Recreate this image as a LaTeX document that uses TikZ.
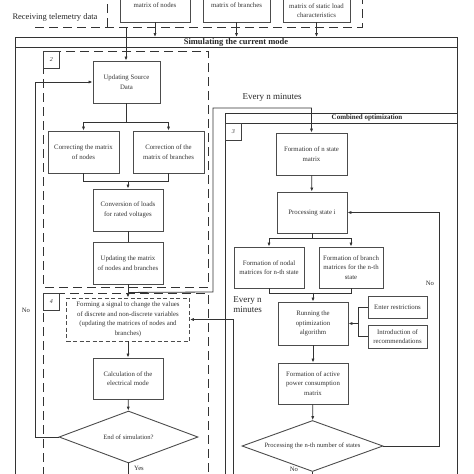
\documentclass[tikz,border=0pt]{standalone}
\usepackage{fontspec}
\setmainfont{Liberation Serif}
\usetikzlibrary{shapes.geometric,arrows.meta}

\begin{document}
\begin{tikzpicture}[x=1pt,y=-1pt,
    >={Latex[length=4pt,width=3.2pt]},
    line width=0.8pt, color=black!80,
    box/.style={draw=black!70,line width=0.9pt,rectangle,align=center,inner sep=1pt,
        text=black!80,font=\fontsize{6.8}{9.5}\selectfont},
    dbox/.style={box,dash pattern=on 4pt off 2.5pt},
    cond/.style={diamond,draw=black!70,line width=0.9pt,aspect=2.7,inner sep=1pt,
        text=black!80,font=\fontsize{6.6}{9}\selectfont},
    tag/.style={draw=black!75,line width=0.9pt,minimum width=16,minimum height=17,
        inner sep=0pt,text=black!80,font=\fontsize{6}{6}\selectfont\itshape},
    frame/.style={draw=black!80,line width=0.9pt},
    area/.style={draw=black!80,line width=1pt,dash pattern=on 9pt off 5pt},
    lbl/.style={text=black!85,inner sep=0pt}]
\useasboundingbox (0,0) rectangle (474,474);
\clip (0,0) rectangle (474,474);

% block 1 (cut at the top)
\draw[area] (35,27) -- (362,27) -- (362,-5);
\draw[area] (107,27) -- (107,-5);
\node[lbl,font=\fontsize{8.5}{9}\selectfont] (telemlbl) at (55,17) {Receiving telemetry data};
\node[box,minimum width=70,minimum height=34] (fnodes) at (155,5) {matrix of nodes};
\node[box,minimum width=67,minimum height=34] (fbranches) at (236.5,5) {matrix of branches};
\node[box,minimum width=67,minimum height=34,text depth=0pt] (fstatic) at (316.5,5) {};
\node[lbl,align=center,font=\fontsize{6.8}{9}\selectfont,text=black!80] (fstatictxt) at (316.5,11) {matrix of static load\\characteristics};
\coordinate (simtop) at (0,37);
\coordinate (telem) at (126,27);
\draw[->] (fnodes.south) -- (fnodes.south |- simtop);
\draw[->] (fbranches.south) -- (fbranches.south |- simtop);
\draw[->] (fstatic.south) -- (fstatic.south |- simtop);

% simulating the current mode
\draw[frame] (15,490) -- (15,37) -- (457,37) -- (457,490);
\draw[frame] (15,47) -- (457,47);
\node[lbl,font=\fontsize{8.5}{9}\selectfont\bfseries] (simtitle) at (236,42) {Simulating the current mode};

% block 2
\draw[area] (43,51) rectangle (208,287);
\node[tag,anchor=north west] (tagtwo) at (43,51) {2};
\node[box,minimum width=67,minimum height=42] (usd) at (126.5,82) {Updating Source\\Data};
\node[box,minimum width=71,minimum height=42] (cnodes) at (83.5,152) {Correcting the matrix\\of nodes};
\node[box,minimum width=71,minimum height=42] (cbranch) at (168.5,152) {Correction of the\\matrix of branches};
\node[box,minimum width=70,minimum height=42] (conv) at (128,210) {Conversion of loads\\for rated voltages};
\node[box,minimum width=70,minimum height=42] (umat) at (128,263) {Updating the matrix\\of nodes and branches};

\draw[->] (telem) -- (telem |- usd.north);
\draw[->] (usd.south) -- ++(0,19) -| (cnodes.north);
\draw[->] (usd.south) ++(0,19) -| (cbranch.north);
\draw (cnodes.south) -- ++(0,8) -| (cbranch.south);
\draw[->] (conv.north) ++(0,-8) -- (conv.north);
\draw (conv) -- (umat);

% block 4
\draw[area] (43,490) -- (43,293) -- (208,293) -- (208,490);
\node[tag,anchor=north west] (tagfour) at (43,293) {4};
\node[dbox,minimum width=123,minimum height=43] (signal) at (128,319.5)
    {Forming a signal to change the values\\of discrete and non-discrete variables\\(updating the matrices of nodes and\\branches)};
\node[box,minimum width=70,minimum height=41] (calc) at (128,378.5) {Calculation of the\\electrical mode};
\node[cond,minimum width=139,minimum height=52] (endsim) at (128.5,437) {End of simulation?};

\draw[->] (umat.south) -- (signal.north);
\draw[->] (signal) -- (calc);
\draw[->] (calc) -- (endsim);
\draw (endsim.south) -- ++(0,20);
\node[lbl,font=\fontsize{6.6}{7}\selectfont] (yes) at (139,468) {Yes};
\draw[->] (endsim.west) -- ++(-23,0) |- (usd.west);
\node[lbl,font=\fontsize{6.6}{7}\selectfont] (nosim) at (26,310) {No};

% block 3: combined optimization
\draw[frame] (225,490) -- (225,113) -- (457,113);
\draw[frame] (225,123) -- (457,123);
\node[lbl,font=\fontsize{7}{7}\selectfont\bfseries] (optitle) at (367,118) {Combined optimization};
\node[tag,anchor=north west] (tagthree) at (225,123) {3};
\node[box,minimum width=71,minimum height=42] (fnstate) at (311.5,154) {Formation of n state\\matrix};
\node[box,minimum width=70,minimum height=41] (procst) at (312,212.5) {Processing state i};
\node[box,minimum width=70,minimum height=41] (fnodal) at (269,267.5) {Formation of nodal\\matrices for n-th state};
\node[box,minimum width=64,minimum height=41] (fbranch) at (351,267.5) {Formation of branch\\matrices for the n-th\\state};
\node[box,minimum width=70,minimum height=43] (runopt) at (313,323.5) {Running the\\optimization\\algorithm};
\node[box,minimum width=59,minimum height=22] (enter) at (397.5,307) {Enter restrictions};
\node[box,minimum width=59,minimum height=23] (intro) at (397.5,336.5) {Introduction of\\recommendations};
\node[box,minimum width=70,minimum height=41] (fapow) at (313,383.5) {Formation of active\\power consumption\\matrix};
\node[cond,minimum width=141,minimum height=51] (procn) at (312.5,446) {Processing the n-th number of states};

\draw[->] (umat.south) ++(0,8) -- (213,292) -- (213,108) -| (fnstate.north);
\node[lbl,font=\fontsize{9}{9}\selectfont] (everytop) at (272,97) {Every n minutes};
\draw[->] (fnstate) -- (procst);
\draw[->] (procst.south) -- ++(0,5) -| (fnodal.north);
\draw[->] (procst.south) ++(0,5) -| (fbranch.north);
\draw (fnodal.south) -- ++(0,5) -| (fbranch.south);
\draw[->] (runopt.north) ++(0,-9) -- (runopt.north);
\draw (enter.west) -- ++(-9,0) coordinate (brk);
\draw (intro.west) -| (brk);
\draw[->] (brk |- runopt.east) -- (runopt.east);
\draw[->] (runopt) -- (fapow);
\draw[->] (fapow) -- (procn);
\draw[->] (procn.east) -- ++(56,0) |- (procst.east);
\node[lbl,font=\fontsize{6.6}{7}\selectfont] (noopt) at (430,283) {No};
\draw (procn.south) -- ++(0,10);
\node[lbl,font=\fontsize{6.6}{7}\selectfont] (noend) at (294,469) {No};

% every n minutes into block 4
\coordinate (everyin) at (233,490);
\draw[->] (everyin) |- (signal.east);
\node[lbl,font=\fontsize{9}{10}\selectfont,align=left,anchor=north west] (everylow) at (233,296) {Every n\\minutes};
\end{tikzpicture}
\end{document}
